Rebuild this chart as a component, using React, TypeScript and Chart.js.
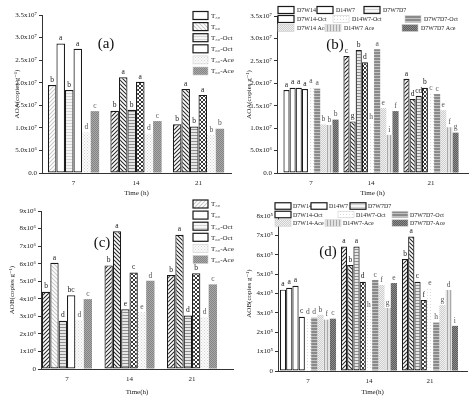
import React, { useEffect, useRef } from "react";
import { Chart, registerables } from "chart.js";

Chart.register(...registerables);

const FONT = '"Liberation Serif", "DejaVu Serif", "Times New Roman", serif';

// ---------- shared ----------
const timesH = [7, 14, 21];
const timeTickLabels = ["7", "14", "21"];

// ---------- (a) AOA, temperature series ----------
const seriesA = ["T₃₀", "T₆₀", "T₃₀-Oct", "T₆₀-Oct", "T₃₀-Ace", "T₆₀-Ace"];
const valuesA = [
  [1.95e7, 1.38e7, 1.08e7],
  [2.87e7, 2.12e7, 1.86e7],
  [1.84e7, 1.4e7, 1.03e7],
  [2.75e7, 2.02e7, 1.73e7],
  [0.9e7, 0.87e7, 0.84e7],
  [1.37e7, 1.15e7, 0.98e7],
];
const lettersA = [
  ["b", "b", "b"],
  ["a", "a", "a"],
  ["b", "b", "b"],
  ["a", "a", "a"],
  ["d", "d", "b"],
  ["c", "c", "b"],
];
const yTicksA = [0, 5e6, 1e7, 1.5e7, 2e7, 2.5e7, 3e7, 3.5e7];
const yTickLabelsA = ["0.0", "5.0x10⁶", "1.0x10⁷", "1.5x10⁷", "2.0x10⁷", "2.5x10⁷", "3.0x10⁷", "3.5x10⁷"];

// ---------- (b) AOA, drying/wetting series ----------
const seriesB = [
  "D7W14", "D14W7", "D7W7D7",
  "D7W14-Oct", "D14W7-Oct", "D7W7D7-Oct",
  "D7W14 Ace", "D14W7 Ace", "D7W7D7 Ace",
];
const valuesB = [
  [1.85e7, 2.61e7, 2.1e7],
  [1.9e7, 1.15e7, 1.65e7],
  [1.9e7, 2.74e7, 1.72e7],
  [1.87e7, 2.47e7, 1.9e7],
  [1.93e7, 1.12e7, 1.77e7],
  [1.88e7, 2.76e7, 1.76e7],
  [1.08e7, 1.45e7, 1.4e7],
  [1.07e7, 0.85e7, 1.02e7],
  [1.19e7, 1.38e7, 0.9e7],
];
const lettersB = [
  ["a", "c", "a"],
  ["a", "g", "d"],
  ["a", "b", "cd"],
  ["a", "d", "b"],
  ["a", "h", "c"],
  ["a", "a", "c"],
  ["b", "e", "e"],
  ["b", "i", "f"],
  ["b", "f", "g"],
];
const yTicksB = [0, 5e6, 1e7, 1.5e7, 2e7, 2.5e7, 3e7, 3.5e7];
const yTickLabelsB = ["0.0", "5.0x10⁶", "1.0x10⁷", "1.5x10⁷", "2.0x10⁷", "2.5x10⁷", "3.0x10⁷", "3.5x10⁷"];

// ---------- (c) AOB, temperature series ----------
const seriesC = ["T₃₀", "T₆₀", "T₃₀-Oct", "T₆₀-Oct", "T₃₀-Ace", "T₆₀-Ace"];
const valuesC = [
  [4.4e6, 5.9e6, 5.35e6],
  [6.05e6, 7.85e6, 7.65e6],
  [2.75e6, 3.4e6, 3.05e6],
  [4.2e6, 5.5e6, 5.45e6],
  [2.8e6, 3.25e6, 2.95e6],
  [3.98e6, 5.02e6, 4.82e6],
];
const lettersC = [
  ["b", "b", "b"],
  ["a", "a", "a"],
  ["d", "e", "d"],
  ["bc", "c", "b"],
  ["d", "e", "d"],
  ["c", "d", "c"],
];
const yTicksC = [0, 1e6, 2e6, 3e6, 4e6, 5e6, 6e6, 7e6, 8e6, 9e6];
const yTickLabelsC = ["0", "1x10⁶", "2x10⁶", "3x10⁶", "4x10⁶", "5x10⁶", "6x10⁶", "7x10⁶", "8x10⁶", "9x10⁶"];

// ---------- (d) AOB, drying/wetting series ----------
const seriesD = [
  "D7W14", "D14W7", "D7W7D7",
  "D7W14-Oct", "D14W7-Oct", "D7W7D7-Oct",
  "D7W14-Ace", "D14W7-Ace", "D7W7D7-Ace",
];
const valuesD = [
  [4.2e5, 6.42e5, 5.78e5],
  [4.3e5, 5.47e5, 6.94e5],
  [4.4e5, 6.42e5, 4.61e5],
  [2.8e5, 4.61e5, 3.66e5],
  [2.75e5, 3.15e5, 4.28e5],
  [2.75e5, 4.7e5, 2.5e5],
  [2.9e5, 4.44e5, 3.4e5],
  [2.65e5, 3.25e5, 4.18e5],
  [2.7e5, 4.54e5, 2.33e5],
];
const lettersD = [
  ["a", "a", "b"],
  ["a", "b", "a"],
  ["a", "a", "c"],
  ["c", "d", "f"],
  ["d", "h", "e"],
  ["d", "c", "h"],
  ["b", "f", "g"],
  ["f", "g", "d"],
  ["c", "e", "i"],
];
const yTicksD = [0, 1e5, 2e5, 3e5, 4e5, 5e5, 6e5, 7e5, 8e5];
const yTickLabelsD = ["0", "1x10⁵", "2x10⁵", "3x10⁵", "4x10⁵", "5x10⁵", "6x10⁵", "7x10⁵", "8x10⁵"];

// ---------- styles ----------
type Style = { fill: string; first: string; legend: string; border: boolean };

const stylesA: Style[] = [
  { fill: "diagUp", first: "diagUpFaint", legend: "white", border: true },
  { fill: "diagDown", first: "white", legend: "diagDownFaint", border: true },
  { fill: "hLines", first: "hLinesFaint", legend: "hLinesFaint", border: true },
  { fill: "cross", first: "white", legend: "white", border: true },
  { fill: "lightDots", first: "lightDots", legend: "lightDots", border: false },
  { fill: "grayDots", first: "grayDots", legend: "grayDots", border: false },
];
const stylesC: Style[] = [
  { fill: "diagUp", first: "diagUp", legend: "diagUpFaint", border: true },
  { fill: "diagDown", first: "diagDownFaint", legend: "white", border: true },
  { fill: "hLines", first: "hLines", legend: "hLinesFaint", border: true },
  { fill: "cross", first: "white", legend: "white", border: true },
  { fill: "lightDots", first: "lightDots", legend: "lightDots", border: false },
  { fill: "grayDots", first: "grayDots", legend: "grayDots", border: false },
];
const stylesBD: Style[] = [
  { fill: "diagUp", first: "white", legend: "white", border: true },
  { fill: "diagDown", first: "white", legend: "white", border: true },
  { fill: "hLines", first: "white", legend: "hLinesFaint", border: true },
  { fill: "cross", first: "white", legend: "white", border: true },
  { fill: "faintDots", first: "faintDots", legend: "faintDots", border: false },
  { fill: "grayLines", first: "grayLines", legend: "grayLines", border: false },
  { fill: "lightChecker", first: "lightChecker", legend: "lightChecker", border: false },
  { fill: "vLines", first: "vLines", legend: "vLines", border: false },
  { fill: "darkChecker", first: "darkChecker", legend: "darkChecker", border: false },
];

function tile(w: number, h: number, draw: (g: CanvasRenderingContext2D) => void) {
  const c = document.createElement("canvas");
  c.width = w;
  c.height = h;
  const g = c.getContext("2d")!;
  draw(g);
  return c;
}

function diag(g: CanvasRenderingContext2D, up: boolean, color: string) {
  g.fillStyle = "#ffffff";
  g.fillRect(0, 0, 4, 4);
  g.strokeStyle = color;
  g.lineWidth = 1.05;
  g.beginPath();
  if (up) {
    g.moveTo(0, 4); g.lineTo(4, 0);
    g.moveTo(-1, 1); g.lineTo(1, -1);
    g.moveTo(3, 5); g.lineTo(5, 3);
  } else {
    g.moveTo(0, 0); g.lineTo(4, 4);
    g.moveTo(-1, 3); g.lineTo(1, 5);
    g.moveTo(3, -1); g.lineTo(5, 1);
  }
  g.stroke();
}

function rows(g: CanvasRenderingContext2D, w: number, colors: string[]) {
  colors.forEach((c, i) => { g.fillStyle = c; g.fillRect(0, i, w, 1); });
}
function cols(g: CanvasRenderingContext2D, h: number, colors: string[]) {
  colors.forEach((c, i) => { g.fillStyle = c; g.fillRect(i, 0, 1, h); });
}
function checker(g: CanvasRenderingContext2D, a: string, b: string) {
  g.fillStyle = a; g.fillRect(0, 0, 2, 2);
  g.fillStyle = b; g.fillRect(0, 0, 1, 1); g.fillRect(1, 1, 1, 1);
}

function makeFills(ctx: CanvasRenderingContext2D): Record<string, string | CanvasPattern> {
  const p = (w: number, h: number, d: (g: CanvasRenderingContext2D) => void) =>
    ctx.createPattern(tile(w, h, d), "repeat") as CanvasPattern;
  return {
    white: "#ffffff",
    diagUp: p(4, 4, (g) => diag(g, true, "#262626")),
    diagUpFaint: p(4, 4, (g) => diag(g, true, "#c8c8c8")),
    diagDown: p(4, 4, (g) => diag(g, false, "#262626")),
    diagDownFaint: p(4, 4, (g) => diag(g, false, "#c8c8c8")),
    hLines: p(1, 3, (g) => rows(g, 1, ["#8e8e8e", "#e6e6e6", "#e6e6e6"])),
    hLinesFaint: p(1, 3, (g) => rows(g, 1, ["#d4d4d4", "#f6f6f6", "#f6f6f6"])),
    cross: p(4, 4, (g) => {
      g.fillStyle = "#ffffff"; g.fillRect(0, 0, 4, 4);
      g.strokeStyle = "#222222"; g.lineWidth = 0.9; g.beginPath();
      g.moveTo(0, 4); g.lineTo(4, 0); g.moveTo(0, 0); g.lineTo(4, 4);
      g.moveTo(-1, 1); g.lineTo(1, -1); g.moveTo(3, 5); g.lineTo(5, 3);
      g.moveTo(-1, 3); g.lineTo(1, 5); g.moveTo(3, -1); g.lineTo(5, 1);
      g.stroke();
    }),
    lightDots: p(3, 3, (g) => {
      g.fillStyle = "#fbfbfb"; g.fillRect(0, 0, 3, 3);
      g.fillStyle = "#d2d2d2"; g.fillRect(0, 0, 1, 1); g.fillRect(1.5, 1.5, 1, 1);
    }),
    grayDots: p(2, 2, (g) => checker(g, "#a9a9a9", "#848484")),
    faintDots: p(3, 3, (g) => {
      g.fillStyle = "#ffffff"; g.fillRect(0, 0, 3, 3);
      g.fillStyle = "#dadada"; g.fillRect(1, 1, 1, 1);
    }),
    grayLines: p(1, 3, (g) => rows(g, 1, ["#c2c2c2", "#8a8a8a", "#8a8a8a"])),
    lightChecker: p(2, 2, (g) => checker(g, "#f1f1f1", "#cdcdcd")),
    vLines: p(3, 1, (g) => cols(g, 1, ["#a8a8a8", "#e2e2e2", "#e2e2e2"])),
    darkChecker: p(2, 2, (g) => checker(g, "#8c8c8c", "#5c5c5c")),
  };
}

// ---------- panel layouts ----------
type LegendItem = { i: number; x: number; y: number };
type Panel = {
  left: number; top: number; width: number; height: number;
  area: { l: number; t: number; r: number; b: number };
  xMin: number; xMax: number; catPct: number;
  yMax: number; yTicks: number[]; yTickLabels: string[];
  yTitle: string; xTitle: string; yTitlePad: number;
  series: string[]; values: number[][]; letters: string[][]; styles: Style[];
  legend: LegendItem[]; boxW: number; boxH: number; legendFont: number; textGap: number;
  tag: string; tagX: number; tagY: number;
};

const legendVertical = (n: number, x: number, y0: number, step: number) =>
  Array.from({ length: n }, (_, i) => ({ i, x, y: y0 + i * step }));

const legendGrid = (rowsDef: { y: number; xs: number[] }[]) =>
  rowsDef.flatMap((r, ri) => r.xs.map((x, ci) => ({ i: ri * 3 + ci, x, y: r.y })));

const panels: Panel[] = [
  {
    left: 0, top: 0, width: 237, height: 199,
    area: { l: 42, t: 15, r: 231, b: 173 },
    xMin: 3.47, xMax: 24.64, catPct: 0.82,
    yMax: 3.5e7, yTicks: yTicksA, yTickLabels: yTickLabelsA,
    yTitle: "AOA(copies g⁻¹)", xTitle: "Time (h)", yTitlePad: 13,
    series: seriesA, values: valuesA, letters: lettersA, styles: stylesA,
    legend: legendVertical(6, 193, 15.5, 11.1), boxW: 15, boxH: 8, legendFont: 7, textGap: 3,
    tag: "(a)", tagX: 106, tagY: 44,
  },
  {
    left: 237, top: 0, width: 237, height: 199,
    area: { l: 40, t: 16, r: 231, b: 173 },
    xMin: 3.03, xMax: 25.32, catPct: 0.92,
    yMax: 3.5e7, yTicks: yTicksB, yTickLabels: yTickLabelsB,
    yTitle: "AOA(copies g⁻¹)", xTitle: "Time (h)", yTitlePad: 8,
    series: seriesB, values: valuesB, letters: lettersB, styles: stylesBD,
    legend: legendGrid([
      { y: 10, xs: [41, 80, 127] },
      { y: 19, xs: [41, 96, 168] },
      { y: 28, xs: [41, 88, 165] },
    ]),
    boxW: 16, boxH: 7, legendFont: 6, textGap: 3,
    tag: "(b)", tagX: 98, tagY: 45,
  },
  {
    left: 0, top: 198, width: 237, height: 200,
    area: { l: 41, t: 13, r: 233, b: 171 },
    xMin: 4.09, xMax: 25.59, catPct: 0.8,
    yMax: 9e6, yTicks: yTicksC, yTickLabels: yTickLabelsC,
    yTitle: "AOB(copies g⁻¹)", xTitle: "Time(h)", yTitlePad: 8,
    series: seriesC, values: valuesC, letters: lettersC, styles: stylesC,
    legend: legendVertical(6, 193, 6, 11.1), boxW: 15, boxH: 8, legendFont: 7, textGap: 3,
    tag: "(c)", tagX: 102, tagY: 45,
  },
  {
    left: 237, top: 198, width: 237, height: 200,
    area: { l: 41, t: 18, r: 230, b: 173 },
    xMin: 3.56, xMax: 25.25, catPct: 0.92,
    yMax: 8e5, yTicks: yTicksD, yTickLabels: yTickLabelsD,
    yTitle: "AOB(copies g⁻¹)", xTitle: "Time(h)", yTitlePad: 8,
    series: seriesD, values: valuesD, letters: lettersD, styles: stylesBD,
    legend: legendGrid([
      { y: 8, xs: [38, 74, 113] },
      { y: 16.5, xs: [38, 101, 155] },
      { y: 25, xs: [38, 88, 155] },
    ]),
    boxW: 16, boxH: 6.5, legendFont: 6, textGap: 2,
    tag: "(d)", tagX: 91, tagY: 54,
  },
];

function PanelChart({ p }: { p: Panel }) {
  const ref = useRef<HTMLCanvasElement | null>(null);

  useEffect(() => {
    const canvas = ref.current!;
    const ctx = canvas.getContext("2d")!;
    const fills = makeFills(ctx);

    const overlay = {
      id: "overlay",
      afterDatasetsDraw(chart: any) {
        const c: CanvasRenderingContext2D = chart.ctx;
        c.save();
        // significance letters
        c.font = `7.5px ${FONT}`;
        c.textAlign = "center";
        c.textBaseline = "bottom";
        p.series.forEach((_, i) => {
          const meta = chart.getDatasetMeta(i);
          meta.data.forEach((el: any, j: number) => {
            c.fillStyle = p.styles[i].border ? "#1a1a1a" : "#555";
            c.fillText(p.letters[i][j], el.x, el.y - 1.5);
          });
        });
        // legend
        c.textAlign = "left";
        c.textBaseline = "middle";
        c.font = `${p.legendFont}px ${FONT}`;
        p.legend.forEach((it) => {
          const st = p.styles[it.i];
          const y0 = it.y - p.boxH / 2;
          c.fillStyle = fills[st.legend] as any;
          c.fillRect(it.x, y0, p.boxW, p.boxH);
          c.lineWidth = st.border ? 1.2 : 0.6;
          c.strokeStyle = st.border ? "#1a1a1a" : "#cfcfcf";
          c.strokeRect(it.x, y0, p.boxW, p.boxH);
          c.fillStyle = "#1a1a1a";
          c.fillText(p.series[it.i], it.x + p.boxW + p.textGap, it.y + 0.5);
        });
        // panel tag
        c.font = `15px ${FONT}`;
        c.textAlign = "center";
        c.textBaseline = "middle";
        c.fillStyle = "#111";
        c.fillText(p.tag, p.tagX, p.tagY);
        c.restore();
      },
    };

    const chart = new Chart(canvas, {
      type: "bar",
      data: {
        datasets: p.series.map((name, i) => {
          const st = p.styles[i];
          return {
            label: name,
            data: timesH.map((t, j) => ({ x: t, y: p.values[i][j] })),
            backgroundColor: timesH.map((_, j) => (j === 0 ? fills[st.first] : fills[st.fill])) as any,
            borderColor: st.border ? "#1a1a1a" : "rgba(0,0,0,0)",
            borderWidth: st.border ? 1.2 : 0,
            borderSkipped: false,
            inflateAmount: 0,
            barPercentage: 1,
            categoryPercentage: p.catPct,
          };
        }) as any,
      },
      options: {
        responsive: false,
        animation: false,
        devicePixelRatio: 1,
        layout: { padding: { left: 0, top: p.area.t, right: p.width - p.area.r, bottom: 0 } },
        plugins: { legend: { display: false }, tooltip: { enabled: false }, title: { display: false } },
        scales: {
          x: {
            type: "linear",
            offset: false,
            bounds: "data",
            min: p.xMin,
            max: p.xMax,
            afterBuildTicks: (s: any) => { s.ticks = timesH.map((v) => ({ value: v })); },
            afterFit: (s: any) => { s.height = p.height - p.area.b; },
            ticks: {
              callback: (_v: any, idx: number) => timeTickLabels[idx],
              font: { family: FONT, size: 7 },
              color: "#1a1a1a",
              padding: 6,
              maxRotation: 0,
              autoSkip: false,
            },
            grid: { display: false, drawTicks: false, offset: false },
            border: { display: true, color: "#333", width: 1 },
            title: {
              display: true,
              text: p.xTitle,
              font: { family: FONT, size: 7 },
              color: "#1a1a1a",
              padding: { top: 0, bottom: 2 },
            },
          },
          y: {
            type: "linear",
            min: 0,
            max: p.yMax,
            afterBuildTicks: (s: any) => { s.ticks = p.yTicks.map((v) => ({ value: v })); },
            afterFit: (s: any) => { s.width = p.area.l; },
            ticks: {
              callback: (_v: any, idx: number) => p.yTickLabels[idx],
              font: { family: FONT, size: 7 },
              color: "#1a1a1a",
              padding: 2,
              autoSkip: false,
            },
            grid: { display: true, drawOnChartArea: false, drawTicks: true, tickLength: 3, color: "#333" },
            border: { display: true, color: "#333", width: 1 },
            title: {
              display: true,
              text: p.yTitle,
              font: { family: FONT, size: 7 },
              color: "#1a1a1a",
              padding: { top: p.yTitlePad, bottom: 0 },
            },
          },
        },
      } as any,
      plugins: [overlay],
    });

    return () => chart.destroy();
  }, [p]);

  return (
    <canvas
      ref={ref}
      width={p.width}
      height={p.height}
      style={{ position: "absolute", left: p.left, top: p.top, width: p.width, height: p.height }}
    />
  );
}

export default function App() {
  return (
    <div style={{ position: "absolute", left: 0, top: 0, width: 474, height: 398, background: "#ffffff", overflow: "hidden" }}>
      {panels.map((p, k) => (
        <PanelChart key={k} p={p} />
      ))}
    </div>
  );
}
